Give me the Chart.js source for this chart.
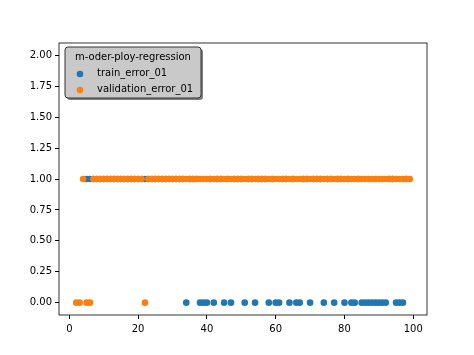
<!DOCTYPE html>
<html>
<head>
<meta charset="utf-8">
<script src="https://cdn.jsdelivr.net/npm/chart.js@4/dist/chart.umd.min.js"></script>
<style>
  html, body {margin: 0; padding: 0; background: #fff;}
  #wrap {width: 474px; height: 355px;}
</style>
</head>
<body>
<div id="wrap"><canvas id="c" width="474" height="355"></canvas></div>
<script>
// Values.
const legendTitle = 'm-oder-ploy-regression';
const seriesNames = ['train_error_01', 'validation_error_01'];
const seriesColors = ['#1f77b4', '#ff7f0e'];

const trainZeroX = [34, 38, 39, 40, 42, 45, 47, 51, 54, 58, 60, 61, 64, 66, 67,
                    70, 74, 77, 80, 82, 83, 85, 86, 87, 88, 89, 90, 91, 92, 95,
                    96, 97];
const trainOneX = [5, 6, 7, 8, 9, 10, 11, 12, 13, 14, 15, 16, 17, 18, 19, 20,
                   21, 22, 23, 24, 25, 26, 27, 28, 29, 30, 31, 32, 33, 35, 36,
                   37, 41, 43, 44, 46, 48, 49, 50, 52, 53, 55, 56, 57, 59, 62,
                   63, 65, 68, 69, 71, 72, 73, 75, 76, 78, 79, 81, 84, 93, 94,
                   98];
const validZeroX = [2, 3, 5, 6, 22];
const validOneX = [4, 7, 8, 9, 10, 11, 12, 13, 14, 15, 16, 17, 18, 19, 20, 21,
                   23, 24, 25, 26, 27, 28, 29, 30, 31, 32, 33, 34, 35, 36, 37,
                   38, 39, 40, 41, 42, 43, 44, 45, 46, 47, 48, 49, 50, 51, 52,
                   53, 54, 55, 56, 57, 58, 59, 60, 61, 62, 63, 64, 65, 66, 67,
                   68, 69, 70, 71, 72, 73, 74, 75, 76, 77, 78, 79, 80, 81, 82,
                   83, 84, 85, 86, 87, 88, 89, 90, 91, 92, 93, 94, 95, 96, 97,
                   98, 99];

const xTicks = [0, 20, 40, 60, 80, 100];
const yTicks = [0, 0.25, 0.5, 0.75, 1, 1.25, 1.5, 1.75, 2];

const pts = (xs, y) => xs.map(x => ({x, y}));
const trainData = [...pts(trainZeroX, 0), ...pts(trainOneX, 1)];
const validData = [...pts(validZeroX, 0), ...pts(validOneX, 1)];

const FONT = '"DejaVu Sans", sans-serif';

// Full axes frame (matplotlib spines on all four sides).
const frame = {
    id: 'frame',
    afterDatasetsDraw(chart) {
        const {ctx, chartArea: a} = chart;
        ctx.save();
        ctx.strokeStyle = '#000';
        ctx.lineWidth = 0.8;
        ctx.strokeRect(a.left, a.top, a.right - a.left, a.bottom - a.top);
        ctx.restore();
    },
};

// Legend box with title and shadow, placed in the upper left of the axes.
const boxLegend = {
    id: 'boxLegend',
    afterDraw(chart) {
        const {ctx, chartArea: a} = chart;
        const x = a.left + 6, y = a.top + 4, w = 136, h = 51;
        ctx.save();
        const rr = (dx, dy) => {
            ctx.beginPath();
            ctx.roundRect(x + dx, y + dy, w, h, 3);
        };
        rr(2, 2);
        ctx.fillStyle = 'rgba(0,0,0,0.5)';
        ctx.fill();
        rr(0, 0);
        ctx.fillStyle = '#c9c9c9';
        ctx.fill();
        ctx.strokeStyle = '#333';
        ctx.lineWidth = 1;
        ctx.stroke();
        ctx.fillStyle = '#000';
        ctx.font = `10px ${FONT}`;
        ctx.textBaseline = 'middle';
        ctx.textAlign = 'center';
        ctx.fillText(legendTitle, x + w / 2, y + 10);
        ctx.textAlign = 'left';
        seriesNames.forEach((n, i) => {
            const cy = y + 26 + i * 16;
            ctx.beginPath();
            ctx.arc(x + 15, cy + 1, 3.3, 0, Math.PI * 2);
            ctx.fillStyle = seriesColors[i];
            ctx.fill();
            ctx.fillStyle = '#000';
            ctx.fillText(n, x + 32, cy);
        });
        ctx.restore();
    },
};

new Chart(document.getElementById('c'), {
    type: 'scatter',
    data: {
        datasets: [
            {
                label: seriesNames[0], data: trainData, order: 2,
                backgroundColor: seriesColors[0], borderColor: seriesColors[0],
                pointRadius: 3.3, borderWidth: 0,
            },
            {
                label: seriesNames[1], data: validData, order: 1,
                backgroundColor: seriesColors[1], borderColor: seriesColors[1],
                pointRadius: 3.3, borderWidth: 0,
            },
        ],
    },
    plugins: [frame, boxLegend],
    options: {
        responsive: false,
        animation: false,
        events: [],
        layout: {padding: {top: 43, right: 47, left: 0, bottom: 0}},
        scales: {
            x: {
                type: 'linear', min: -3, max: 104,
                afterBuildTicks: s => { s.ticks = xTicks.map(v => ({value: v})); },
                afterFit: s => { s.height = 40; },
                grid: {drawOnChartArea: false, drawTicks: true, tickLength: 4,
                       color: '#000'},
                border: {display: false},
                ticks: {color: '#000', font: {family: FONT, size: 10},
                        padding: 4, maxRotation: 0},
            },
            y: {
                type: 'linear', min: -0.1, max: 2.1,
                afterBuildTicks: s => { s.ticks = yTicks.map(v => ({value: v})); },
                afterFit: s => { s.width = 59; },
                grid: {drawOnChartArea: false, drawTicks: true, tickLength: 4,
                       color: '#000'},
                border: {display: false},
                ticks: {color: '#000', font: {family: FONT, size: 10},
                        padding: 3, callback: v => v.toFixed(2)},
            },
        },
        plugins: {legend: {display: false}, tooltip: {enabled: false}},
    },
});
</script>
</body>
</html>
